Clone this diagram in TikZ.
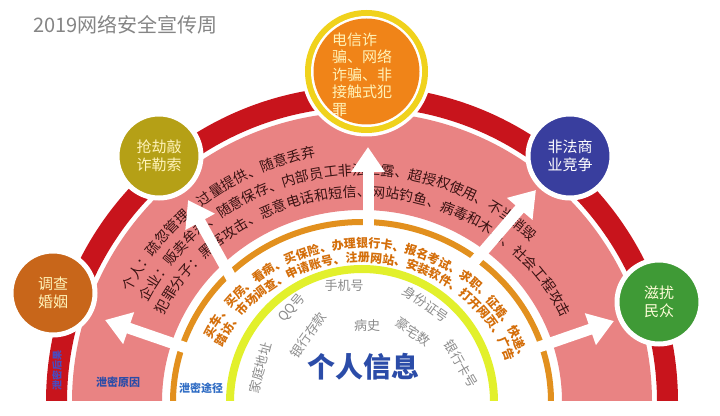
\documentclass[tikz,border=0pt]{standalone}
\usepackage{fontspec}
\setmainfont{Noto Sans CJK SC}
\usetikzlibrary{arrows.meta,decorations.text,calc}
\definecolor{ringred}{HTML}{C8141C}
\definecolor{pinkband}{HTML}{E98383}
\definecolor{ringorange}{HTML}{E2901E}
\definecolor{ringyellow}{HTML}{E2F02C}
\definecolor{pinktext}{HTML}{3A1212}
\definecolor{orangetext}{HTML}{D46E0A}
\definecolor{infogray}{HTML}{8C8C8C}
\definecolor{titlegray}{HTML}{858585}
\definecolor{infoblue}{HTML}{2B4CA8}
\definecolor{labelblue}{HTML}{2F6CC4}
\definecolor{barblue}{HTML}{4A4CC0}
\definecolor{cA}{HTML}{C8661A}
\definecolor{cB}{HTML}{B5A016}
\definecolor{cC}{HTML}{F08418}
\definecolor{cCring}{HTML}{F0D21C}
\definecolor{cD}{HTML}{393E9E}
\definecolor{cE}{HTML}{3F9A36}
\definecolor{pale}{HTML}{FFF3B8}
\begin{document}
\begin{tikzpicture}[x=1pt,y=1pt,
  crime/.style={circle, draw=white, line width=5pt, minimum size=84pt, inner sep=0pt, align=center,
    font=\fontsize{15}{18}\selectfont, text=pale},
  bigarrow/.style={line width=11pt, white, -{Triangle[width=32pt,length=25pt]}},
  info/.style={text=infogray, font=\fontsize{13}{13}\selectfont, inner sep=0pt},
  bluelabel/.style={text=labelblue, font=\bfseries\fontsize{11}{11}\selectfont, inner sep=0pt},
  pinkline/.style={decorate, decoration={text along path, text color=pinktext,
    text={|\fontsize{14}{14}\selectfont|#1}}},
  orangeline/.style={decorate, decoration={text along path, text color=orangetext,
    text={|\bfseries\fontsize{12}{12}\selectfont|#1}}}
]
\useasboundingbox (0,0) rectangle (720,415);
\fill[white] (0,0) rectangle (720,415);
\coordinate (C) at (362,13);

% rings
\begin{scope}
\clip (0,15) rectangle (720,415);
\fill[ringred, even odd rule] (C) circle[radius=316] (C) circle[radius=295];
\fill[pinkband, even odd rule] (C) circle[radius=290] (C) ellipse[x radius=200, y radius=192];
\draw[ringorange, line width=6pt] (C) ellipse[x radius=189, y radius=180];
\draw[ringyellow, line width=8pt] (C) ellipse[x radius=132, y radius=133];
\end{scope}

% pink texts
\path[pinkline={个人：疏忽管理、过量提供、随意丢弃}]
  ($(C)+(154:257 and 249)$) arc[start angle=154, end angle=5, x radius=257, y radius=249];
\path[pinkline={企业：贩卖牟利、随意保存、内部员工非法泄露、超授权使用、不当销毁}]
  ($(C)+(154:238 and 227)$) arc[start angle=154, end angle=5, x radius=238, y radius=227];
\path[pinkline={犯罪分子：黑客攻击、恶意电话和短信、网站钓鱼、病毒和木马、社会工程攻击}]
  ($(C)+(155:219 and 205)$) arc[start angle=155, end angle=3, x radius=219, y radius=205];

% orange texts
\path[orangeline={买车、买房、看病、买保险、办理银行卡、报名考试、求职、征婚、快递、}]
  ($(C)+(156:165 and 154)$) arc[start angle=156, end angle=3, x radius=165, y radius=154];
\path[orangeline={踏访、市场调查、申请账号、注册网站、安装软件、打开网页、广告}]
  ($(C)+(157:151 and 140)$) arc[start angle=157, end angle=3, x radius=151, y radius=140];

% gray info words
\node[info] (phone) at (344,129) {手机号};
\node[info, rotate=50] (qq) at (292,107) {QQ号};
\node[info, rotate=55] (deposit) at (308,80) {银行存款};
\node[info, rotate=75] (addr) at (260,47) {家庭地址};
\node[info] (med) at (367,89) {病史};
\node[info, rotate=-35] (idno) at (426,111) {身份证号};
\node[info, rotate=-35] (house) at (413,83) {豪宅数};
\node[info, rotate=-60] (card) at (461,51) {银行卡号};

\node[text=infoblue, font=\bfseries\fontsize{28}{28}\selectfont, inner sep=0pt] (pinfo) at (363,48) {个人信息};

% blue labels
\node[bluelabel] (route) at (201,27) {泄密途径};
\node[bluelabel, text=infoblue] (cause) at (118,33) {泄密原因};
\node[bluelabel, text=barblue, rotate=90, font=\bfseries\fontsize{10}{10}\selectfont] (result) at (57,45) {泄密后果};

% arrows
\coordinate (a1s) at (192,65);  \coordinate (a1e) at (105,95);
\coordinate (a2s) at (231.5,136.8); \coordinate (a2e) at (188,215);
\coordinate (a3s) at (368,186); \coordinate (a3e) at (368,268);
\coordinate (a4s) at (474,153); \coordinate (a4e) at (536,225);
\coordinate (a5s) at (536,67);  \coordinate (a5e) at (614,94);
\draw[bigarrow] (a1s) -- (a1e);
\draw[bigarrow] (a2s) -- (a2e);
\draw[bigarrow] (a3s) -- (a3e);
\draw[bigarrow] (a4s) -- (a4e);
\draw[bigarrow] (a5s) -- (a5e);

% circles
\node[crime, fill=cA] (marriage) at (53,122) {调查\\婚姻};
\node[crime, fill=cB, text=pale] (rob) at (159,259) {抢劫敲\\诈勒索};
\node[crime, fill=cD, text=white] (biz) at (570,259) {非法商\\业竞争};
\node[crime, fill=cE, text={white!85!yellow}] (harass) at (659,113) {滋扰\\民众};

\coordinate (T) at (366.5,343.5);
\fill[white] (T) circle[radius=65];
\fill[cCring] (T) circle[radius=61.5];
\fill[white] (T) circle[radius=55.5];
\node[circle, fill=cC, minimum size=106pt, inner sep=0pt] (fraud) at (T) {};
\node[align=left, text=pale, font=\fontsize{15}{17.5}\selectfont, inner sep=0pt] (fraudtext) at (362,340.5)
  {电信诈\\骗、网络\\诈骗、非\\接触式犯\\罪};

% title
\node[anchor=west, text=titlegray, font=\fontsize{20}{20}\selectfont, inner sep=0pt] (title) at (33,390) {2019网络安全宣传周};
\end{tikzpicture}
\end{document}
